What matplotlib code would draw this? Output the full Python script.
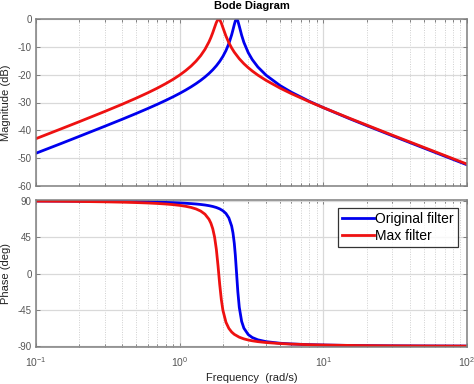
import matplotlib
matplotlib.use("Agg")
import matplotlib.pyplot as plt
from matplotlib.ticker import LogLocator, NullFormatter, FixedLocator

plt.rcParams['font.family'] = ['Liberation Sans', 'DejaVu Sans']
plt.rcParams['axes.unicode_minus'] = False
plt.rcParams['mathtext.fontset'] = 'custom'
plt.rcParams['mathtext.rm'] = 'Liberation Sans'
plt.rcParams['mathtext.it'] = 'Liberation Sans'
plt.rcParams['mathtext.default'] = 'regular'

# Original filter (blue)
w_orig = [0.1, 0.15, 0.2, 0.3, 0.4, 0.5, 0.6, 0.7, 0.8, 0.9, 1.0, 1.1, 1.2, 1.3, 1.4, 1.5,
          1.6, 1.7, 1.8, 1.9, 2.0, 2.1, 2.2, 2.3, 2.35, 2.4, 2.44, 2.49, 2.54, 2.6, 2.7, 2.8,
          3.0, 3.2, 3.5, 4, 5, 6, 8, 10, 15, 20, 30, 50, 70, 100]
mag_orig = [-48.23, -44.71, -42.17, -38.57, -35.98, -33.91, -32.16, -30.63, -29.24, -27.95,
            -26.73, -25.54, -24.38, -23.22, -22.05, -20.84, -19.58, -18.25, -16.81, -15.22,
            -13.43, -11.34, -8.83, -5.70, -3.88, -2.00, -0.71, 0.0, -0.68, -2.57, -5.83, -8.42,
            -12.07, -14.57, -17.23, -20.22, -23.92, -26.33, -29.58, -31.84, -35.68, -38.28,
            -41.88, -46.35, -49.29, -52.39]
ph_orig = [89.78, 89.67, 89.55, 89.32, 89.09, 88.84, 88.59, 88.31, 88.02, 87.71,
           87.36, 86.97, 86.54, 86.04, 85.47, 84.79, 83.98, 82.97, 81.70, 80.02,
           77.69, 74.28, 68.78, 58.76, 50.23, 37.38, 22.83, 0.0, -22.42, -41.90, -59.27, -67.72,
           -75.58, -79.24, -82.10, -84.40, -86.35, -87.23, -88.10, -88.53, -89.06, -89.30,
           -89.54, -89.72, -89.80, -89.86]

# Max filter (red)
w_max = [0.1, 0.15, 0.2, 0.3, 0.4, 0.5, 0.6, 0.7, 0.8, 0.9, 1.0, 1.1, 1.2, 1.3, 1.4, 1.5,
         1.6, 1.65, 1.7, 1.75, 1.8, 1.85, 1.87, 1.9, 1.95, 2.0, 2.1, 2.2, 2.3, 2.4, 2.6, 2.8,
         3.0, 3.2, 3.5, 4, 5, 6, 8, 10, 15, 20, 30, 50, 70, 100]
mag_max = [-42.99, -39.44, -36.90, -33.25, -30.58, -28.40, -26.52, -24.82, -23.22, -21.68,
           -20.14, -18.56, -16.92, -15.14, -13.17, -10.91, -8.21, -6.64, -4.90, -3.03,
           -1.25, -0.11, 0.0, -0.25, -1.47, -3.09, -6.13, -8.52, -10.40, -11.92, -14.28, -16.07,
           -17.49, -18.68, -20.15, -22.07, -24.83, -26.83, -29.73, -31.84, -35.53, -38.09,
           -41.67, -46.11, -49.04, -52.14]
ph_max = [89.59, 89.39, 89.18, 88.75, 88.30, 87.82, 87.30, 86.71, 86.04, 85.27,
          84.35, 83.22, 81.80, 79.92, 77.32, 73.45, 67.13, 62.24, 55.32, 45.14,
          30.02, 9.25, 0.0, -13.55, -32.40, -45.52, -60.40, -67.97, -72.42, -75.32, -78.87, -80.95,
          -82.33, -83.31, -84.36, -85.48, -86.71, -87.39, -88.13, -88.53, -89.04, -89.29,
          -89.53, -89.72, -89.80, -89.86]

mag_ticks = [0, -10, -20, -30, -40, -50, -60]
ph_ticks = [90, 45, 0, -45, -90]
x_ticks = [0.1, 1, 10, 100]
x_labels = [r'$10^{-1}$', r'$10^{0}$', r'$10^{1}$', r'$10^{2}$']

W, H = 474, 384
fig = plt.figure(figsize=(W / 100, H / 100), dpi=100)
ax1 = fig.add_axes([36 / W, 1 - 186 / H, 431 / W, 167 / H])
ax2 = fig.add_axes([36 / W, 1 - 347 / H, 431 / W, 147 / H])

tick_col = '#555555'
spine_col = '#7f7f7f'
for ax in (ax1, ax2):
    ax.set_xscale('log')
    ax.set_xlim(0.1, 100)
    ax.xaxis.set_major_locator(FixedLocator(x_ticks))
    ax.xaxis.set_minor_locator(LogLocator(base=10, subs=range(2, 10)))
    ax.xaxis.set_minor_formatter(NullFormatter())
    ax.grid(True, which='major', color='#d9d9d9', lw=0.9, ls='-')
    ax.grid(True, which='minor', axis='x', color='#cfcfcf', lw=0.7, ls=(0, (1, 1.5)))
    ax.set_axisbelow(True)
    for s in ax.spines.values():
        s.set_color(spine_col)
        s.set_linewidth(1.1)
    ax.tick_params(which='both', direction='in', top=True, right=True,
                   colors=spine_col, labelcolor=tick_col, labelsize=7, width=0.7, pad=3)
    ax.tick_params(which='major', length=3)
    ax.tick_params(which='minor', length=2)

ax1.plot(w_orig, mag_orig, color='#0000ee', lw=2.0)
ax1.plot(w_max, mag_max, color='#ee1111', lw=2.0)
ax1.set_ylim(-60, 0)
ax1.set_yticks(mag_ticks)
ax1.set_xticklabels([])
ax1.set_ylabel('Magnitude (dB)', fontsize=8, color='#222222')
ax1.yaxis.set_label_coords(-0.058, 0.5)
ax1.set_title('Bode Diagram', fontsize=8, fontweight='bold', pad=7)

ax2.plot(w_orig, ph_orig, color='#0000ee', lw=2.0, label='Original filter')
ax2.plot(w_max, ph_max, color='#ee1111', lw=2.0, label='Max filter')
ax2.set_ylim(-91, 91)
ax2.set_yticks(ph_ticks)
ax2.set_xticklabels(x_labels)
ax2.tick_params(axis='x', which='major', pad=6, labelsize=7.5)
ax2.set_ylabel('Phase (deg)', fontsize=8, color='#222222')
ax2.yaxis.set_label_coords(-0.058, 0.5)
ax2.set_xlabel('Frequency  (rad/s)', fontsize=8, color='#222222', labelpad=3)

leg = ax2.legend(loc='upper right', bbox_to_anchor=(0.979, 0.9456), borderaxespad=0,
                 fontsize=10, frameon=True, fancybox=False, edgecolor='black',
                 handlelength=2.3, handletextpad=0.1, labelspacing=0.2, borderpad=0.3)
leg.get_frame().set_linewidth(0.9)

fig.savefig('out.png', dpi=100)
